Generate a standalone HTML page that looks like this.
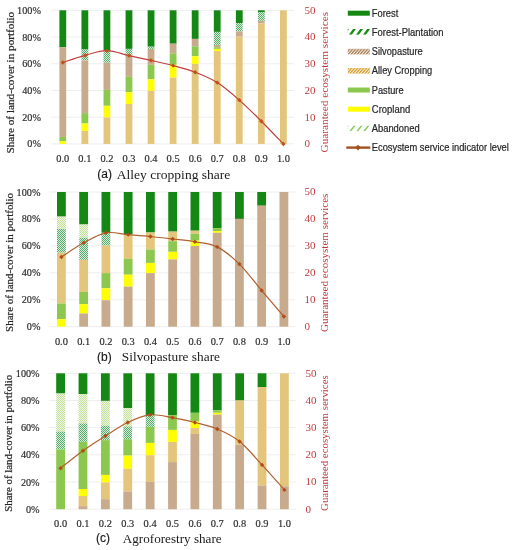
<!DOCTYPE html>
<html><head><meta charset="utf-8"><title>Land-cover portfolio charts</title>
<style>html,body{margin:0;padding:0;background:#fff;}body{width:512px;height:550px;overflow:hidden;}svg{display:block;}</style>
</head><body>
<svg width="512" height="550" viewBox="0 0 512 550">
<defs>
<pattern id="pFP" width="2" height="2" patternUnits="userSpaceOnUse"><rect width="2" height="2" fill="#d2efd7"/><rect width="1" height="1" fill="#5aa86c"/><rect x="1" y="1" width="1" height="1" fill="#5aa86c"/></pattern>
<pattern id="pAb" width="2" height="2" patternUnits="userSpaceOnUse"><rect width="2" height="2" fill="#eff7e0"/><rect width="1" height="1" fill="#c3df9c"/><rect x="1" y="1" width="1" height="1" fill="#c3df9c"/></pattern>
</defs>
<rect width="512" height="550" fill="#fff"/>
<line x1="51" y1="10.3" x2="294" y2="10.3" stroke="#eeeeee" stroke-width="1"/>
<line x1="51" y1="37.02" x2="294" y2="37.02" stroke="#eeeeee" stroke-width="1"/>
<line x1="51" y1="63.74" x2="294" y2="63.74" stroke="#eeeeee" stroke-width="1"/>
<line x1="51" y1="90.46" x2="294" y2="90.46" stroke="#eeeeee" stroke-width="1"/>
<line x1="51" y1="117.18" x2="294" y2="117.18" stroke="#eeeeee" stroke-width="1"/>
<line x1="51" y1="143.9" x2="294" y2="143.9" stroke="#eeeeee" stroke-width="1"/>
<rect x="59.4" y="10.3" width="6.8" height="36.9" fill="#148714"/>
<rect x="59.4" y="47.2" width="6.8" height="89.7" fill="#c8aa8c"/>
<rect x="59.4" y="136.9" width="6.8" height="4.4" fill="#8cc850"/>
<rect x="59.4" y="141.3" width="6.8" height="2.6" fill="#ffff00"/>
<rect x="81.46" y="10.3" width="6.8" height="39.2" fill="#148714"/>
<rect x="81.46" y="49.5" width="6.8" height="11" fill="url(#pFP)"/>
<rect x="81.46" y="60.5" width="6.8" height="52.6" fill="#c8aa8c"/>
<rect x="81.46" y="113.1" width="6.8" height="10.4" fill="#8cc850"/>
<rect x="81.46" y="123.5" width="6.8" height="7.4" fill="#ffff00"/>
<rect x="81.46" y="130.9" width="6.8" height="13" fill="#e3c67b"/>
<rect x="103.52" y="10.3" width="6.8" height="40.4" fill="#148714"/>
<rect x="103.52" y="50.7" width="6.8" height="12" fill="url(#pFP)"/>
<rect x="103.52" y="62.7" width="6.8" height="27.2" fill="#c8aa8c"/>
<rect x="103.52" y="89.9" width="6.8" height="15.9" fill="#8cc850"/>
<rect x="103.52" y="105.8" width="6.8" height="11.7" fill="#ffff00"/>
<rect x="103.52" y="117.5" width="6.8" height="26.4" fill="#e3c67b"/>
<rect x="125.58" y="10.3" width="6.8" height="38.6" fill="#148714"/>
<rect x="125.58" y="48.9" width="6.8" height="6.2" fill="url(#pFP)"/>
<rect x="125.58" y="55.1" width="6.8" height="21.7" fill="#c8aa8c"/>
<rect x="125.58" y="76.8" width="6.8" height="15.4" fill="#8cc850"/>
<rect x="125.58" y="92.2" width="6.8" height="11.8" fill="#ffff00"/>
<rect x="125.58" y="104" width="6.8" height="39.9" fill="#e3c67b"/>
<rect x="147.64" y="10.3" width="6.8" height="36.4" fill="#148714"/>
<rect x="147.64" y="46.7" width="6.8" height="2.2" fill="url(#pFP)"/>
<rect x="147.64" y="48.9" width="6.8" height="15.9" fill="#c8aa8c"/>
<rect x="147.64" y="64.8" width="6.8" height="14.6" fill="#8cc850"/>
<rect x="147.64" y="79.4" width="6.8" height="11.4" fill="#ffff00"/>
<rect x="147.64" y="90.8" width="6.8" height="53.1" fill="#e3c67b"/>
<rect x="169.7" y="10.3" width="6.8" height="33.4" fill="#148714"/>
<rect x="169.7" y="43.7" width="6.8" height="9.6" fill="#c8aa8c"/>
<rect x="169.7" y="53.3" width="6.8" height="11.5" fill="#8cc850"/>
<rect x="169.7" y="64.8" width="6.8" height="12.8" fill="#ffff00"/>
<rect x="169.7" y="77.6" width="6.8" height="66.3" fill="#e3c67b"/>
<rect x="191.76" y="10.3" width="6.8" height="28.6" fill="#148714"/>
<rect x="191.76" y="38.9" width="6.8" height="7.4" fill="#c8aa8c"/>
<rect x="191.76" y="46.3" width="6.8" height="10" fill="#8cc850"/>
<rect x="191.76" y="56.3" width="6.8" height="7.6" fill="#ffff00"/>
<rect x="191.76" y="63.9" width="6.8" height="80" fill="#e3c67b"/>
<rect x="213.82" y="10.3" width="6.8" height="21.6" fill="#148714"/>
<rect x="213.82" y="31.9" width="6.8" height="13" fill="url(#pFP)"/>
<rect x="213.82" y="44.9" width="6.8" height="2.3" fill="#c8aa8c"/>
<rect x="213.82" y="47.2" width="6.8" height="1.7" fill="#8cc850"/>
<rect x="213.82" y="48.9" width="6.8" height="2.2" fill="#ffff00"/>
<rect x="213.82" y="51.1" width="6.8" height="92.8" fill="#e3c67b"/>
<rect x="235.88" y="10.3" width="6.8" height="12.8" fill="#148714"/>
<rect x="235.88" y="23.1" width="6.8" height="8.3" fill="url(#pFP)"/>
<rect x="235.88" y="31.4" width="6.8" height="5.2" fill="#c8aa8c"/>
<rect x="235.88" y="36.6" width="6.8" height="107.3" fill="#e3c67b"/>
<rect x="257.94" y="10.3" width="6.8" height="1.7" fill="#148714"/>
<rect x="257.94" y="12" width="6.8" height="8.8" fill="url(#pFP)"/>
<rect x="257.94" y="20.8" width="6.8" height="2.7" fill="#c8aa8c"/>
<rect x="257.94" y="23.5" width="6.8" height="120.4" fill="#e3c67b"/>
<rect x="280" y="10.3" width="6.8" height="133.6" fill="#e3c67b"/>
<path d="M62.8,62.5 C66.48,61.32 77.51,57.37 84.86,55.4 C92.21,53.43 99.57,50.67 106.92,50.7 C114.27,50.73 121.63,53.98 128.98,55.6 C136.33,57.22 143.69,58.73 151.04,60.4 C158.39,62.07 165.75,63.62 173.1,65.6 C180.45,67.58 187.81,69.47 195.16,72.3 C202.51,75.13 209.87,77.97 217.22,82.6 C224.57,87.23 231.93,93.67 239.28,100.1 C246.63,106.53 253.99,113.88 261.34,121.2 C268.69,128.52 279.72,140.2 283.4,144" fill="none" stroke="#c0403c" stroke-width="1.2"/>
<path d="M62.8,60.3 l2.2,2.2 l-2.2,2.2 l-2.2,-2.2z" fill="#c0501a"/>
<path d="M84.86,53.2 l2.2,2.2 l-2.2,2.2 l-2.2,-2.2z" fill="#c0501a"/>
<path d="M106.92,48.5 l2.2,2.2 l-2.2,2.2 l-2.2,-2.2z" fill="#c0501a"/>
<path d="M128.98,53.4 l2.2,2.2 l-2.2,2.2 l-2.2,-2.2z" fill="#c0501a"/>
<path d="M151.04,58.2 l2.2,2.2 l-2.2,2.2 l-2.2,-2.2z" fill="#c0501a"/>
<path d="M173.1,63.4 l2.2,2.2 l-2.2,2.2 l-2.2,-2.2z" fill="#c0501a"/>
<path d="M195.16,70.1 l2.2,2.2 l-2.2,2.2 l-2.2,-2.2z" fill="#c0501a"/>
<path d="M217.22,80.4 l2.2,2.2 l-2.2,2.2 l-2.2,-2.2z" fill="#c0501a"/>
<path d="M239.28,97.9 l2.2,2.2 l-2.2,2.2 l-2.2,-2.2z" fill="#c0501a"/>
<path d="M261.34,119 l2.2,2.2 l-2.2,2.2 l-2.2,-2.2z" fill="#c0501a"/>
<path d="M283.4,141.8 l2.2,2.2 l-2.2,2.2 l-2.2,-2.2z" fill="#c0501a"/>
<text x="40.9" y="13.8" text-anchor="end" font-family="'Liberation Serif', 'DejaVu Serif', serif" font-size="10.2" fill="#303030" stroke="#303030" stroke-width="0.2" textLength="23.8" lengthAdjust="spacingAndGlyphs">100%</text>
<text x="40.9" y="40.52" text-anchor="end" font-family="'Liberation Serif', 'DejaVu Serif', serif" font-size="10.2" fill="#303030" stroke="#303030" stroke-width="0.2" textLength="18.7" lengthAdjust="spacingAndGlyphs">80%</text>
<text x="40.9" y="67.24" text-anchor="end" font-family="'Liberation Serif', 'DejaVu Serif', serif" font-size="10.2" fill="#303030" stroke="#303030" stroke-width="0.2" textLength="18.7" lengthAdjust="spacingAndGlyphs">60%</text>
<text x="40.9" y="93.96" text-anchor="end" font-family="'Liberation Serif', 'DejaVu Serif', serif" font-size="10.2" fill="#303030" stroke="#303030" stroke-width="0.2" textLength="18.7" lengthAdjust="spacingAndGlyphs">40%</text>
<text x="40.9" y="120.68" text-anchor="end" font-family="'Liberation Serif', 'DejaVu Serif', serif" font-size="10.2" fill="#303030" stroke="#303030" stroke-width="0.2" textLength="18.7" lengthAdjust="spacingAndGlyphs">20%</text>
<text x="40.9" y="147.4" text-anchor="end" font-family="'Liberation Serif', 'DejaVu Serif', serif" font-size="10.2" fill="#303030" stroke="#303030" stroke-width="0.2" textLength="13.6" lengthAdjust="spacingAndGlyphs">0%</text>
<text x="304.6" y="13.7" font-family="'Liberation Serif', 'DejaVu Serif', serif" font-size="10.2" fill="#c0393b" textLength="11.02" lengthAdjust="spacingAndGlyphs">50</text>
<text x="304.6" y="40.42" font-family="'Liberation Serif', 'DejaVu Serif', serif" font-size="10.2" fill="#c0393b" textLength="11.02" lengthAdjust="spacingAndGlyphs">40</text>
<text x="304.6" y="67.14" font-family="'Liberation Serif', 'DejaVu Serif', serif" font-size="10.2" fill="#c0393b" textLength="11.02" lengthAdjust="spacingAndGlyphs">30</text>
<text x="304.6" y="93.86" font-family="'Liberation Serif', 'DejaVu Serif', serif" font-size="10.2" fill="#c0393b" textLength="11.02" lengthAdjust="spacingAndGlyphs">20</text>
<text x="304.6" y="120.58" font-family="'Liberation Serif', 'DejaVu Serif', serif" font-size="10.2" fill="#c0393b" textLength="11.02" lengthAdjust="spacingAndGlyphs">10</text>
<text x="304.6" y="147.3" font-family="'Liberation Serif', 'DejaVu Serif', serif" font-size="10.2" fill="#c0393b" textLength="5.51" lengthAdjust="spacingAndGlyphs">0</text>
<text x="62.8" y="162.1" text-anchor="middle" font-family="'Liberation Serif', 'DejaVu Serif', serif" font-size="10.4" fill="#303030" stroke="#303030" stroke-width="0.2">0.0</text>
<text x="84.86" y="162.1" text-anchor="middle" font-family="'Liberation Serif', 'DejaVu Serif', serif" font-size="10.4" fill="#303030" stroke="#303030" stroke-width="0.2">0.1</text>
<text x="106.92" y="162.1" text-anchor="middle" font-family="'Liberation Serif', 'DejaVu Serif', serif" font-size="10.4" fill="#303030" stroke="#303030" stroke-width="0.2">0.2</text>
<text x="128.98" y="162.1" text-anchor="middle" font-family="'Liberation Serif', 'DejaVu Serif', serif" font-size="10.4" fill="#303030" stroke="#303030" stroke-width="0.2">0.3</text>
<text x="151.04" y="162.1" text-anchor="middle" font-family="'Liberation Serif', 'DejaVu Serif', serif" font-size="10.4" fill="#303030" stroke="#303030" stroke-width="0.2">0.4</text>
<text x="173.1" y="162.1" text-anchor="middle" font-family="'Liberation Serif', 'DejaVu Serif', serif" font-size="10.4" fill="#303030" stroke="#303030" stroke-width="0.2">0.5</text>
<text x="195.16" y="162.1" text-anchor="middle" font-family="'Liberation Serif', 'DejaVu Serif', serif" font-size="10.4" fill="#303030" stroke="#303030" stroke-width="0.2">0.6</text>
<text x="217.22" y="162.1" text-anchor="middle" font-family="'Liberation Serif', 'DejaVu Serif', serif" font-size="10.4" fill="#303030" stroke="#303030" stroke-width="0.2">0.7</text>
<text x="239.28" y="162.1" text-anchor="middle" font-family="'Liberation Serif', 'DejaVu Serif', serif" font-size="10.4" fill="#303030" stroke="#303030" stroke-width="0.2">0.8</text>
<text x="261.34" y="162.1" text-anchor="middle" font-family="'Liberation Serif', 'DejaVu Serif', serif" font-size="10.4" fill="#303030" stroke="#303030" stroke-width="0.2">0.9</text>
<text x="283.4" y="162.1" text-anchor="middle" font-family="'Liberation Serif', 'DejaVu Serif', serif" font-size="10.4" fill="#303030" stroke="#303030" stroke-width="0.2">1.0</text>
<text transform="translate(13.5,82.65) rotate(-90)" text-anchor="middle" font-family="'Liberation Serif', 'DejaVu Serif', serif" font-size="10" fill="#262626" stroke="#262626" stroke-width="0.2" textLength="141.7" lengthAdjust="spacingAndGlyphs">Share of land-cover in portfolio</text>
<text transform="translate(327.5,82.2) rotate(-90)" text-anchor="middle" font-family="'Liberation Serif', 'DejaVu Serif', serif" font-size="11.2" fill="#c0393b" textLength="140.4" lengthAdjust="spacingAndGlyphs">Guaranteed ecosystem services</text>
<text x="97.3" y="178.3" font-family="'Liberation Sans', 'DejaVu Sans', sans-serif" font-size="12" fill="#1a1a1a" stroke="#1a1a1a" stroke-width="0.15">(a)</text>
<text x="116.8" y="179.3" font-family="'Liberation Serif', 'DejaVu Serif', serif" font-size="12.6" fill="#1a1a1a" textLength="113.6" lengthAdjust="spacingAndGlyphs">Alley cropping share</text>
<line x1="49.6" y1="192" x2="295.3" y2="192" stroke="#eeeeee" stroke-width="1"/>
<line x1="49.6" y1="218.94" x2="295.3" y2="218.94" stroke="#eeeeee" stroke-width="1"/>
<line x1="49.6" y1="245.88" x2="295.3" y2="245.88" stroke="#eeeeee" stroke-width="1"/>
<line x1="49.6" y1="272.82" x2="295.3" y2="272.82" stroke="#eeeeee" stroke-width="1"/>
<line x1="49.6" y1="299.76" x2="295.3" y2="299.76" stroke="#eeeeee" stroke-width="1"/>
<line x1="49.6" y1="326.7" x2="295.3" y2="326.7" stroke="#eeeeee" stroke-width="1"/>
<rect x="57" y="192" width="8.8" height="24.6" fill="#148714"/>
<rect x="57" y="216.6" width="8.8" height="12.4" fill="url(#pAb)"/>
<rect x="57" y="229" width="8.8" height="23.7" fill="url(#pFP)"/>
<rect x="57" y="252.7" width="8.8" height="50.8" fill="#e3c67b"/>
<rect x="57" y="303.5" width="8.8" height="15.7" fill="#8cc850"/>
<rect x="57" y="319.2" width="8.8" height="7.5" fill="#ffff00"/>
<rect x="79.25" y="192" width="8.8" height="32.5" fill="#148714"/>
<rect x="79.25" y="224.5" width="8.8" height="13.2" fill="url(#pAb)"/>
<rect x="79.25" y="237.7" width="8.8" height="22.2" fill="url(#pFP)"/>
<rect x="79.25" y="259.9" width="8.8" height="32" fill="#e3c67b"/>
<rect x="79.25" y="291.9" width="8.8" height="12.3" fill="#8cc850"/>
<rect x="79.25" y="304.2" width="8.8" height="9.3" fill="#ffff00"/>
<rect x="79.25" y="313.5" width="8.8" height="13.2" fill="#c8aa8c"/>
<rect x="101.5" y="192" width="8.8" height="40.8" fill="#148714"/>
<rect x="101.5" y="232.8" width="8.8" height="12.8" fill="url(#pFP)"/>
<rect x="101.5" y="245.6" width="8.8" height="27.5" fill="#e3c67b"/>
<rect x="101.5" y="273.1" width="8.8" height="15.3" fill="#8cc850"/>
<rect x="101.5" y="288.4" width="8.8" height="11.8" fill="#ffff00"/>
<rect x="101.5" y="300.2" width="8.8" height="26.5" fill="#c8aa8c"/>
<rect x="123.75" y="192" width="8.8" height="42.2" fill="#148714"/>
<rect x="123.75" y="234.2" width="8.8" height="24.7" fill="#e3c67b"/>
<rect x="123.75" y="258.9" width="8.8" height="15.8" fill="#8cc850"/>
<rect x="123.75" y="274.7" width="8.8" height="11.9" fill="#ffff00"/>
<rect x="123.75" y="286.6" width="8.8" height="40.1" fill="#c8aa8c"/>
<rect x="146" y="192" width="8.8" height="40.5" fill="#148714"/>
<rect x="146" y="232.5" width="8.8" height="17" fill="#e3c67b"/>
<rect x="146" y="249.5" width="8.8" height="13.4" fill="#8cc850"/>
<rect x="146" y="262.9" width="8.8" height="10.2" fill="#ffff00"/>
<rect x="146" y="273.1" width="8.8" height="53.6" fill="#c8aa8c"/>
<rect x="168.25" y="192" width="8.8" height="39.6" fill="#148714"/>
<rect x="168.25" y="231.6" width="8.8" height="9.6" fill="#e3c67b"/>
<rect x="168.25" y="241.2" width="8.8" height="10.6" fill="#8cc850"/>
<rect x="168.25" y="251.8" width="8.8" height="7.6" fill="#ffff00"/>
<rect x="168.25" y="259.4" width="8.8" height="67.3" fill="#c8aa8c"/>
<rect x="190.5" y="192" width="8.8" height="38.7" fill="#148714"/>
<rect x="190.5" y="230.7" width="8.8" height="3" fill="#e3c67b"/>
<rect x="190.5" y="233.7" width="8.8" height="7" fill="#8cc850"/>
<rect x="190.5" y="240.7" width="8.8" height="5.3" fill="#ffff00"/>
<rect x="190.5" y="246" width="8.8" height="80.7" fill="#c8aa8c"/>
<rect x="212.75" y="192" width="8.8" height="36.1" fill="#148714"/>
<rect x="212.75" y="228.1" width="8.8" height="3" fill="#8cc850"/>
<rect x="212.75" y="231.1" width="8.8" height="1.7" fill="#ffff00"/>
<rect x="212.75" y="232.8" width="8.8" height="93.9" fill="#c8aa8c"/>
<rect x="235" y="192" width="8.8" height="26.9" fill="#148714"/>
<rect x="235" y="218.9" width="8.8" height="107.8" fill="#c8aa8c"/>
<rect x="257.25" y="192" width="8.8" height="13.7" fill="#148714"/>
<rect x="257.25" y="205.7" width="8.8" height="121" fill="#c8aa8c"/>
<rect x="279.5" y="192" width="8.8" height="134.7" fill="#c8aa8c"/>
<path d="M61.4,257 C65.11,254.63 76.23,246.83 83.65,242.8 C91.07,238.77 98.48,234.17 105.9,232.8 C113.32,231.43 120.73,233.98 128.15,234.6 C135.57,235.22 142.98,235.77 150.4,236.5 C157.82,237.23 165.23,238.12 172.65,239 C180.07,239.88 187.48,240.48 194.9,241.8 C202.32,243.12 209.73,243.18 217.15,246.9 C224.57,250.62 231.98,256.83 239.4,264.1 C246.82,271.37 254.23,281.77 261.65,290.5 C269.07,299.23 280.19,312.17 283.9,316.5" fill="none" stroke="#b06030" stroke-width="1.2"/>
<path d="M61.4,254.8 l2.2,2.2 l-2.2,2.2 l-2.2,-2.2z" fill="#b24c18"/>
<path d="M83.65,240.6 l2.2,2.2 l-2.2,2.2 l-2.2,-2.2z" fill="#b24c18"/>
<path d="M105.9,230.6 l2.2,2.2 l-2.2,2.2 l-2.2,-2.2z" fill="#b24c18"/>
<path d="M128.15,232.4 l2.2,2.2 l-2.2,2.2 l-2.2,-2.2z" fill="#b24c18"/>
<path d="M150.4,234.3 l2.2,2.2 l-2.2,2.2 l-2.2,-2.2z" fill="#b24c18"/>
<path d="M172.65,236.8 l2.2,2.2 l-2.2,2.2 l-2.2,-2.2z" fill="#b24c18"/>
<path d="M194.9,239.6 l2.2,2.2 l-2.2,2.2 l-2.2,-2.2z" fill="#b24c18"/>
<path d="M217.15,244.7 l2.2,2.2 l-2.2,2.2 l-2.2,-2.2z" fill="#b24c18"/>
<path d="M239.4,261.9 l2.2,2.2 l-2.2,2.2 l-2.2,-2.2z" fill="#b24c18"/>
<path d="M261.65,288.3 l2.2,2.2 l-2.2,2.2 l-2.2,-2.2z" fill="#b24c18"/>
<path d="M283.9,314.3 l2.2,2.2 l-2.2,2.2 l-2.2,-2.2z" fill="#b24c18"/>
<text x="40.4" y="195.5" text-anchor="end" font-family="'Liberation Serif', 'DejaVu Serif', serif" font-size="10.2" fill="#303030" stroke="#303030" stroke-width="0.2" textLength="23.8" lengthAdjust="spacingAndGlyphs">100%</text>
<text x="40.4" y="222.44" text-anchor="end" font-family="'Liberation Serif', 'DejaVu Serif', serif" font-size="10.2" fill="#303030" stroke="#303030" stroke-width="0.2" textLength="18.7" lengthAdjust="spacingAndGlyphs">80%</text>
<text x="40.4" y="249.38" text-anchor="end" font-family="'Liberation Serif', 'DejaVu Serif', serif" font-size="10.2" fill="#303030" stroke="#303030" stroke-width="0.2" textLength="18.7" lengthAdjust="spacingAndGlyphs">60%</text>
<text x="40.4" y="276.32" text-anchor="end" font-family="'Liberation Serif', 'DejaVu Serif', serif" font-size="10.2" fill="#303030" stroke="#303030" stroke-width="0.2" textLength="18.7" lengthAdjust="spacingAndGlyphs">40%</text>
<text x="40.4" y="303.26" text-anchor="end" font-family="'Liberation Serif', 'DejaVu Serif', serif" font-size="10.2" fill="#303030" stroke="#303030" stroke-width="0.2" textLength="18.7" lengthAdjust="spacingAndGlyphs">20%</text>
<text x="40.4" y="330.2" text-anchor="end" font-family="'Liberation Serif', 'DejaVu Serif', serif" font-size="10.2" fill="#303030" stroke="#303030" stroke-width="0.2" textLength="13.6" lengthAdjust="spacingAndGlyphs">0%</text>
<text x="304.6" y="195.4" font-family="'Liberation Serif', 'DejaVu Serif', serif" font-size="10.2" fill="#c0393b" textLength="11.02" lengthAdjust="spacingAndGlyphs">50</text>
<text x="304.6" y="222.34" font-family="'Liberation Serif', 'DejaVu Serif', serif" font-size="10.2" fill="#c0393b" textLength="11.02" lengthAdjust="spacingAndGlyphs">40</text>
<text x="304.6" y="249.28" font-family="'Liberation Serif', 'DejaVu Serif', serif" font-size="10.2" fill="#c0393b" textLength="11.02" lengthAdjust="spacingAndGlyphs">30</text>
<text x="304.6" y="276.22" font-family="'Liberation Serif', 'DejaVu Serif', serif" font-size="10.2" fill="#c0393b" textLength="11.02" lengthAdjust="spacingAndGlyphs">20</text>
<text x="304.6" y="303.16" font-family="'Liberation Serif', 'DejaVu Serif', serif" font-size="10.2" fill="#c0393b" textLength="11.02" lengthAdjust="spacingAndGlyphs">10</text>
<text x="304.6" y="330.1" font-family="'Liberation Serif', 'DejaVu Serif', serif" font-size="10.2" fill="#c0393b" textLength="5.51" lengthAdjust="spacingAndGlyphs">0</text>
<text x="61.4" y="344.6" text-anchor="middle" font-family="'Liberation Serif', 'DejaVu Serif', serif" font-size="10.4" fill="#303030" stroke="#303030" stroke-width="0.2">0.0</text>
<text x="83.65" y="344.6" text-anchor="middle" font-family="'Liberation Serif', 'DejaVu Serif', serif" font-size="10.4" fill="#303030" stroke="#303030" stroke-width="0.2">0.1</text>
<text x="105.9" y="344.6" text-anchor="middle" font-family="'Liberation Serif', 'DejaVu Serif', serif" font-size="10.4" fill="#303030" stroke="#303030" stroke-width="0.2">0.2</text>
<text x="128.15" y="344.6" text-anchor="middle" font-family="'Liberation Serif', 'DejaVu Serif', serif" font-size="10.4" fill="#303030" stroke="#303030" stroke-width="0.2">0.3</text>
<text x="150.4" y="344.6" text-anchor="middle" font-family="'Liberation Serif', 'DejaVu Serif', serif" font-size="10.4" fill="#303030" stroke="#303030" stroke-width="0.2">0.4</text>
<text x="172.65" y="344.6" text-anchor="middle" font-family="'Liberation Serif', 'DejaVu Serif', serif" font-size="10.4" fill="#303030" stroke="#303030" stroke-width="0.2">0.5</text>
<text x="194.9" y="344.6" text-anchor="middle" font-family="'Liberation Serif', 'DejaVu Serif', serif" font-size="10.4" fill="#303030" stroke="#303030" stroke-width="0.2">0.6</text>
<text x="217.15" y="344.6" text-anchor="middle" font-family="'Liberation Serif', 'DejaVu Serif', serif" font-size="10.4" fill="#303030" stroke="#303030" stroke-width="0.2">0.7</text>
<text x="239.4" y="344.6" text-anchor="middle" font-family="'Liberation Serif', 'DejaVu Serif', serif" font-size="10.4" fill="#303030" stroke="#303030" stroke-width="0.2">0.8</text>
<text x="261.65" y="344.6" text-anchor="middle" font-family="'Liberation Serif', 'DejaVu Serif', serif" font-size="10.4" fill="#303030" stroke="#303030" stroke-width="0.2">0.9</text>
<text x="283.9" y="344.6" text-anchor="middle" font-family="'Liberation Serif', 'DejaVu Serif', serif" font-size="10.4" fill="#303030" stroke="#303030" stroke-width="0.2">1.0</text>
<text transform="translate(12.8,262.5) rotate(-90)" text-anchor="middle" font-family="'Liberation Serif', 'DejaVu Serif', serif" font-size="10" fill="#262626" stroke="#262626" stroke-width="0.2" textLength="138.9" lengthAdjust="spacingAndGlyphs">Share of land-cover in portfolio</text>
<text transform="translate(327.5,262.8) rotate(-90)" text-anchor="middle" font-family="'Liberation Serif', 'DejaVu Serif', serif" font-size="11.2" fill="#c0393b" textLength="138.4" lengthAdjust="spacingAndGlyphs">Guaranteed ecosystem services</text>
<text x="97" y="361" font-family="'Liberation Sans', 'DejaVu Sans', sans-serif" font-size="12" fill="#1a1a1a" stroke="#1a1a1a" stroke-width="0.15">(b)</text>
<text x="121.8" y="361.4" font-family="'Liberation Serif', 'DejaVu Serif', serif" font-size="12.6" fill="#1a1a1a" textLength="98.2" lengthAdjust="spacingAndGlyphs">Silvopasture share</text>
<line x1="49.2" y1="373.3" x2="296" y2="373.3" stroke="#eeeeee" stroke-width="1"/>
<line x1="49.2" y1="400.48" x2="296" y2="400.48" stroke="#eeeeee" stroke-width="1"/>
<line x1="49.2" y1="427.66" x2="296" y2="427.66" stroke="#eeeeee" stroke-width="1"/>
<line x1="49.2" y1="454.84" x2="296" y2="454.84" stroke="#eeeeee" stroke-width="1"/>
<line x1="49.2" y1="482.02" x2="296" y2="482.02" stroke="#eeeeee" stroke-width="1"/>
<line x1="49.2" y1="509.2" x2="296" y2="509.2" stroke="#eeeeee" stroke-width="1"/>
<rect x="56.2" y="373.3" width="8.8" height="20.2" fill="#148714"/>
<rect x="56.2" y="393.5" width="8.8" height="38.1" fill="url(#pAb)"/>
<rect x="56.2" y="431.6" width="8.8" height="17.8" fill="url(#pFP)"/>
<rect x="56.2" y="449.4" width="8.8" height="59.8" fill="#8cc850"/>
<rect x="78.58" y="373.3" width="8.8" height="20.7" fill="#148714"/>
<rect x="78.58" y="394" width="8.8" height="29.4" fill="url(#pAb)"/>
<rect x="78.58" y="423.4" width="8.8" height="18.5" fill="url(#pFP)"/>
<rect x="78.58" y="441.9" width="8.8" height="47.1" fill="#8cc850"/>
<rect x="78.58" y="489" width="8.8" height="7" fill="#ffff00"/>
<rect x="78.58" y="496" width="8.8" height="10.2" fill="#e3c67b"/>
<rect x="78.58" y="506.2" width="8.8" height="3" fill="#c8aa8c"/>
<rect x="100.96" y="373.3" width="8.8" height="27.6" fill="#148714"/>
<rect x="100.96" y="400.9" width="8.8" height="24.8" fill="url(#pAb)"/>
<rect x="100.96" y="425.7" width="8.8" height="14.4" fill="url(#pFP)"/>
<rect x="100.96" y="440.1" width="8.8" height="34.8" fill="#8cc850"/>
<rect x="100.96" y="474.9" width="8.8" height="7.6" fill="#ffff00"/>
<rect x="100.96" y="482.5" width="8.8" height="16.7" fill="#e3c67b"/>
<rect x="100.96" y="499.2" width="8.8" height="10" fill="#c8aa8c"/>
<rect x="123.34" y="373.3" width="8.8" height="34.8" fill="#148714"/>
<rect x="123.34" y="408.1" width="8.8" height="18.4" fill="url(#pAb)"/>
<rect x="123.34" y="426.5" width="8.8" height="12.7" fill="url(#pFP)"/>
<rect x="123.34" y="439.2" width="8.8" height="16.4" fill="#8cc850"/>
<rect x="123.34" y="455.6" width="8.8" height="13.2" fill="#ffff00"/>
<rect x="123.34" y="468.8" width="8.8" height="22.8" fill="#e3c67b"/>
<rect x="123.34" y="491.6" width="8.8" height="17.6" fill="#c8aa8c"/>
<rect x="145.72" y="373.3" width="8.8" height="41.8" fill="#148714"/>
<rect x="145.72" y="415.1" width="8.8" height="11.8" fill="url(#pFP)"/>
<rect x="145.72" y="426.9" width="8.8" height="16" fill="#8cc850"/>
<rect x="145.72" y="442.9" width="8.8" height="12.3" fill="#ffff00"/>
<rect x="145.72" y="455.2" width="8.8" height="26.7" fill="#e3c67b"/>
<rect x="145.72" y="481.9" width="8.8" height="27.3" fill="#c8aa8c"/>
<rect x="168.1" y="373.3" width="8.8" height="41.8" fill="#148714"/>
<rect x="168.1" y="415.1" width="8.8" height="14.8" fill="#8cc850"/>
<rect x="168.1" y="429.9" width="8.8" height="12" fill="#ffff00"/>
<rect x="168.1" y="441.9" width="8.8" height="20.2" fill="#e3c67b"/>
<rect x="168.1" y="462.1" width="8.8" height="47.1" fill="#c8aa8c"/>
<rect x="190.48" y="373.3" width="8.8" height="39.5" fill="#148714"/>
<rect x="190.48" y="412.8" width="8.8" height="8.8" fill="#8cc850"/>
<rect x="190.48" y="421.6" width="8.8" height="6.5" fill="#ffff00"/>
<rect x="190.48" y="428.1" width="8.8" height="5.8" fill="#e3c67b"/>
<rect x="190.48" y="433.9" width="8.8" height="75.3" fill="#c8aa8c"/>
<rect x="212.86" y="373.3" width="8.8" height="36.9" fill="#148714"/>
<rect x="212.86" y="410.2" width="8.8" height="2.6" fill="#8cc850"/>
<rect x="212.86" y="412.8" width="8.8" height="1.8" fill="#ffff00"/>
<rect x="212.86" y="414.6" width="8.8" height="94.6" fill="#c8aa8c"/>
<rect x="235.24" y="373.3" width="8.8" height="27.2" fill="#148714"/>
<rect x="235.24" y="400.5" width="8.8" height="44.2" fill="#e3c67b"/>
<rect x="235.24" y="444.7" width="8.8" height="64.5" fill="#c8aa8c"/>
<rect x="257.62" y="373.3" width="8.8" height="13.7" fill="#148714"/>
<rect x="257.62" y="387" width="8.8" height="98.5" fill="#e3c67b"/>
<rect x="257.62" y="485.5" width="8.8" height="23.7" fill="#c8aa8c"/>
<rect x="280" y="373.3" width="8.8" height="113" fill="#e3c67b"/>
<rect x="280" y="486.3" width="8.8" height="22.9" fill="#c8aa8c"/>
<path d="M60.6,468.2 C64.33,465.28 75.52,456.07 82.98,450.7 C90.44,445.33 97.9,440.7 105.36,436 C112.82,431.3 120.28,426.02 127.74,422.5 C135.2,418.98 142.66,415.72 150.12,414.9 C157.58,414.08 165.04,416.33 172.5,417.6 C179.96,418.87 187.42,420.6 194.88,422.5 C202.34,424.4 209.8,425.83 217.26,429 C224.72,432.17 232.18,435.52 239.64,441.5 C247.1,447.48 254.56,456.83 262.02,464.9 C269.48,472.97 280.67,485.73 284.4,489.9" fill="none" stroke="#b06030" stroke-width="1.2"/>
<path d="M60.6,466 l2.2,2.2 l-2.2,2.2 l-2.2,-2.2z" fill="#b24c18"/>
<path d="M82.98,448.5 l2.2,2.2 l-2.2,2.2 l-2.2,-2.2z" fill="#b24c18"/>
<path d="M105.36,433.8 l2.2,2.2 l-2.2,2.2 l-2.2,-2.2z" fill="#b24c18"/>
<path d="M127.74,420.3 l2.2,2.2 l-2.2,2.2 l-2.2,-2.2z" fill="#b24c18"/>
<path d="M150.12,412.7 l2.2,2.2 l-2.2,2.2 l-2.2,-2.2z" fill="#b24c18"/>
<path d="M172.5,415.4 l2.2,2.2 l-2.2,2.2 l-2.2,-2.2z" fill="#b24c18"/>
<path d="M194.88,420.3 l2.2,2.2 l-2.2,2.2 l-2.2,-2.2z" fill="#b24c18"/>
<path d="M217.26,426.8 l2.2,2.2 l-2.2,2.2 l-2.2,-2.2z" fill="#b24c18"/>
<path d="M239.64,439.3 l2.2,2.2 l-2.2,2.2 l-2.2,-2.2z" fill="#b24c18"/>
<path d="M262.02,462.7 l2.2,2.2 l-2.2,2.2 l-2.2,-2.2z" fill="#b24c18"/>
<path d="M284.4,487.7 l2.2,2.2 l-2.2,2.2 l-2.2,-2.2z" fill="#b24c18"/>
<text x="39.6" y="376.8" text-anchor="end" font-family="'Liberation Serif', 'DejaVu Serif', serif" font-size="10.2" fill="#303030" stroke="#303030" stroke-width="0.2" textLength="23.8" lengthAdjust="spacingAndGlyphs">100%</text>
<text x="39.6" y="403.98" text-anchor="end" font-family="'Liberation Serif', 'DejaVu Serif', serif" font-size="10.2" fill="#303030" stroke="#303030" stroke-width="0.2" textLength="18.7" lengthAdjust="spacingAndGlyphs">80%</text>
<text x="39.6" y="431.16" text-anchor="end" font-family="'Liberation Serif', 'DejaVu Serif', serif" font-size="10.2" fill="#303030" stroke="#303030" stroke-width="0.2" textLength="18.7" lengthAdjust="spacingAndGlyphs">60%</text>
<text x="39.6" y="458.34" text-anchor="end" font-family="'Liberation Serif', 'DejaVu Serif', serif" font-size="10.2" fill="#303030" stroke="#303030" stroke-width="0.2" textLength="18.7" lengthAdjust="spacingAndGlyphs">40%</text>
<text x="39.6" y="485.52" text-anchor="end" font-family="'Liberation Serif', 'DejaVu Serif', serif" font-size="10.2" fill="#303030" stroke="#303030" stroke-width="0.2" textLength="18.7" lengthAdjust="spacingAndGlyphs">20%</text>
<text x="39.6" y="512.7" text-anchor="end" font-family="'Liberation Serif', 'DejaVu Serif', serif" font-size="10.2" fill="#303030" stroke="#303030" stroke-width="0.2" textLength="13.6" lengthAdjust="spacingAndGlyphs">0%</text>
<text x="305.6" y="376.7" font-family="'Liberation Serif', 'DejaVu Serif', serif" font-size="10.2" fill="#c0393b" textLength="11.02" lengthAdjust="spacingAndGlyphs">50</text>
<text x="305.6" y="403.88" font-family="'Liberation Serif', 'DejaVu Serif', serif" font-size="10.2" fill="#c0393b" textLength="11.02" lengthAdjust="spacingAndGlyphs">40</text>
<text x="305.6" y="431.06" font-family="'Liberation Serif', 'DejaVu Serif', serif" font-size="10.2" fill="#c0393b" textLength="11.02" lengthAdjust="spacingAndGlyphs">30</text>
<text x="305.6" y="458.24" font-family="'Liberation Serif', 'DejaVu Serif', serif" font-size="10.2" fill="#c0393b" textLength="11.02" lengthAdjust="spacingAndGlyphs">20</text>
<text x="305.6" y="485.42" font-family="'Liberation Serif', 'DejaVu Serif', serif" font-size="10.2" fill="#c0393b" textLength="11.02" lengthAdjust="spacingAndGlyphs">10</text>
<text x="305.6" y="512.6" font-family="'Liberation Serif', 'DejaVu Serif', serif" font-size="10.2" fill="#c0393b" textLength="5.51" lengthAdjust="spacingAndGlyphs">0</text>
<text x="60.6" y="527" text-anchor="middle" font-family="'Liberation Serif', 'DejaVu Serif', serif" font-size="10.4" fill="#303030" stroke="#303030" stroke-width="0.2">0.0</text>
<text x="82.98" y="527" text-anchor="middle" font-family="'Liberation Serif', 'DejaVu Serif', serif" font-size="10.4" fill="#303030" stroke="#303030" stroke-width="0.2">0.1</text>
<text x="105.36" y="527" text-anchor="middle" font-family="'Liberation Serif', 'DejaVu Serif', serif" font-size="10.4" fill="#303030" stroke="#303030" stroke-width="0.2">0.2</text>
<text x="127.74" y="527" text-anchor="middle" font-family="'Liberation Serif', 'DejaVu Serif', serif" font-size="10.4" fill="#303030" stroke="#303030" stroke-width="0.2">0.3</text>
<text x="150.12" y="527" text-anchor="middle" font-family="'Liberation Serif', 'DejaVu Serif', serif" font-size="10.4" fill="#303030" stroke="#303030" stroke-width="0.2">0.4</text>
<text x="172.5" y="527" text-anchor="middle" font-family="'Liberation Serif', 'DejaVu Serif', serif" font-size="10.4" fill="#303030" stroke="#303030" stroke-width="0.2">0.5</text>
<text x="194.88" y="527" text-anchor="middle" font-family="'Liberation Serif', 'DejaVu Serif', serif" font-size="10.4" fill="#303030" stroke="#303030" stroke-width="0.2">0.6</text>
<text x="217.26" y="527" text-anchor="middle" font-family="'Liberation Serif', 'DejaVu Serif', serif" font-size="10.4" fill="#303030" stroke="#303030" stroke-width="0.2">0.7</text>
<text x="239.64" y="527" text-anchor="middle" font-family="'Liberation Serif', 'DejaVu Serif', serif" font-size="10.4" fill="#303030" stroke="#303030" stroke-width="0.2">0.8</text>
<text x="262.02" y="527" text-anchor="middle" font-family="'Liberation Serif', 'DejaVu Serif', serif" font-size="10.4" fill="#303030" stroke="#303030" stroke-width="0.2">0.9</text>
<text x="284.4" y="527" text-anchor="middle" font-family="'Liberation Serif', 'DejaVu Serif', serif" font-size="10.4" fill="#303030" stroke="#303030" stroke-width="0.2">1.0</text>
<text transform="translate(12.2,443.25) rotate(-90)" text-anchor="middle" font-family="'Liberation Serif', 'DejaVu Serif', serif" font-size="10" fill="#262626" stroke="#262626" stroke-width="0.2" textLength="137.1" lengthAdjust="spacingAndGlyphs">Share of land-cover in portfolio</text>
<text transform="translate(328,443.1) rotate(-90)" text-anchor="middle" font-family="'Liberation Serif', 'DejaVu Serif', serif" font-size="11.2" fill="#c0393b" textLength="135.6" lengthAdjust="spacingAndGlyphs">Guaranteed ecosystem services</text>
<text x="96.1" y="542" font-family="'Liberation Sans', 'DejaVu Sans', sans-serif" font-size="12" fill="#1a1a1a" stroke="#1a1a1a" stroke-width="0.15">(c)</text>
<text x="122.8" y="543.2" font-family="'Liberation Serif', 'DejaVu Serif', serif" font-size="12.6" fill="#1a1a1a" textLength="98.8" lengthAdjust="spacingAndGlyphs">Agroforestry share</text>
<defs>
<pattern id="lFP" width="7.3" height="6" patternUnits="userSpaceOnUse" patternTransform="skewX(-40)"><rect x="0" y="0" width="3.6" height="6" fill="#178a17"/></pattern>
<pattern id="lSP" width="3" height="6" patternUnits="userSpaceOnUse" patternTransform="skewX(-40)"><rect width="3" height="6" fill="#f3ebe2"/><rect width="1.6" height="6" fill="#a87a52"/></pattern>
<pattern id="lAC" width="3" height="6" patternUnits="userSpaceOnUse" patternTransform="skewX(-40)"><rect width="3" height="6" fill="#fbf1d8"/><rect width="1.6" height="6" fill="#d49a2a"/></pattern>
<clipPath id="clipFP"><rect x="347.75" y="29.1" width="21.9" height="5.65"/></clipPath><clipPath id="clipAB"><rect x="347.75" y="125.6" width="21.9" height="5.6"/></clipPath>
<pattern id="lAB" width="7.3" height="6" patternUnits="userSpaceOnUse" patternTransform="skewX(-40)"><rect x="0" y="0" width="3.0" height="6" fill="#8fd05a"/></pattern>
</defs>
<rect x="347.8" y="10.7" width="22" height="5" fill="#148714"/>
<text x="371.8" y="16.7" font-family="'Liberation Sans', 'DejaVu Sans', sans-serif" font-size="10" fill="#262626" stroke="#262626" stroke-width="0.2" textLength="26.5" lengthAdjust="spacingAndGlyphs">Forest</text>
<g clip-path="url(#clipFP)">
<path d="M341.85,34.75 L344.75,34.75 L348.95,29.1 L346.05,29.1 Z" fill="#178c17"/>
<path d="M348.85,34.75 L351.75,34.75 L355.95,29.1 L353.05,29.1 Z" fill="#178c17"/>
<path d="M355.95,34.75 L358.85,34.75 L363.05,29.1 L360.15,29.1 Z" fill="#178c17"/>
<path d="M362.95,34.75 L365.85,34.75 L370.05,29.1 L367.15,29.1 Z" fill="#178c17"/>
</g>
<text x="371.8" y="35.9" font-family="'Liberation Sans', 'DejaVu Sans', sans-serif" font-size="10" fill="#262626" stroke="#262626" stroke-width="0.2" textLength="71.8" lengthAdjust="spacingAndGlyphs">Forest-Plantation</text>
<rect x="347.8" y="48.8" width="22" height="5.6" fill="url(#lSP)"/>
<text x="371.8" y="55.1" font-family="'Liberation Sans', 'DejaVu Sans', sans-serif" font-size="10" fill="#262626" stroke="#262626" stroke-width="0.2" textLength="50.9" lengthAdjust="spacingAndGlyphs">Silvopasture</text>
<rect x="347.8" y="68" width="22" height="5.6" fill="url(#lAC)"/>
<text x="371.8" y="74.3" font-family="'Liberation Sans', 'DejaVu Sans', sans-serif" font-size="10" fill="#262626" stroke="#262626" stroke-width="0.2" textLength="60.5" lengthAdjust="spacingAndGlyphs">Alley Cropping</text>
<rect x="347.8" y="87.5" width="22" height="5" fill="#8cc850"/>
<text x="371.8" y="93.5" font-family="'Liberation Sans', 'DejaVu Sans', sans-serif" font-size="10" fill="#262626" stroke="#262626" stroke-width="0.2" textLength="31.7" lengthAdjust="spacingAndGlyphs">Pasture</text>
<rect x="347.8" y="106.7" width="22" height="5" fill="#ffff00"/>
<text x="371.8" y="112.7" font-family="'Liberation Sans', 'DejaVu Sans', sans-serif" font-size="10" fill="#262626" stroke="#262626" stroke-width="0.2" textLength="38.4" lengthAdjust="spacingAndGlyphs">Cropland</text>
<g clip-path="url(#clipAB)">
<path d="M342.4,131.2 L344.3,131.2 L348.9,125.6 L347,125.6 Z" fill="#84c85a"/>
<path d="M349.3,131.2 L351.2,131.2 L355.8,125.6 L353.9,125.6 Z" fill="#84c85a"/>
<path d="M356.2,131.2 L358.1,131.2 L362.7,125.6 L360.8,125.6 Z" fill="#84c85a"/>
<path d="M363.1,131.2 L365,131.2 L369.6,125.6 L367.7,125.6 Z" fill="#84c85a"/>
</g>
<text x="371.8" y="131.9" font-family="'Liberation Sans', 'DejaVu Sans', sans-serif" font-size="10" fill="#262626" stroke="#262626" stroke-width="0.2" textLength="47.8" lengthAdjust="spacingAndGlyphs">Abandoned</text>
<line x1="346.3" y1="147.6" x2="370.3" y2="147.6" stroke="#a5511f" stroke-width="2.4"/>
<path d="M358,144.7 l2.9,2.9 l-2.9,2.9 l-2.9,-2.9z" fill="#a5511f"/>
<text x="371.8" y="151.1" font-family="'Liberation Sans', 'DejaVu Sans', sans-serif" font-size="10" fill="#262626" stroke="#262626" stroke-width="0.2" textLength="137" lengthAdjust="spacingAndGlyphs">Ecosystem service indicator level</text>
</svg>
</body></html>
